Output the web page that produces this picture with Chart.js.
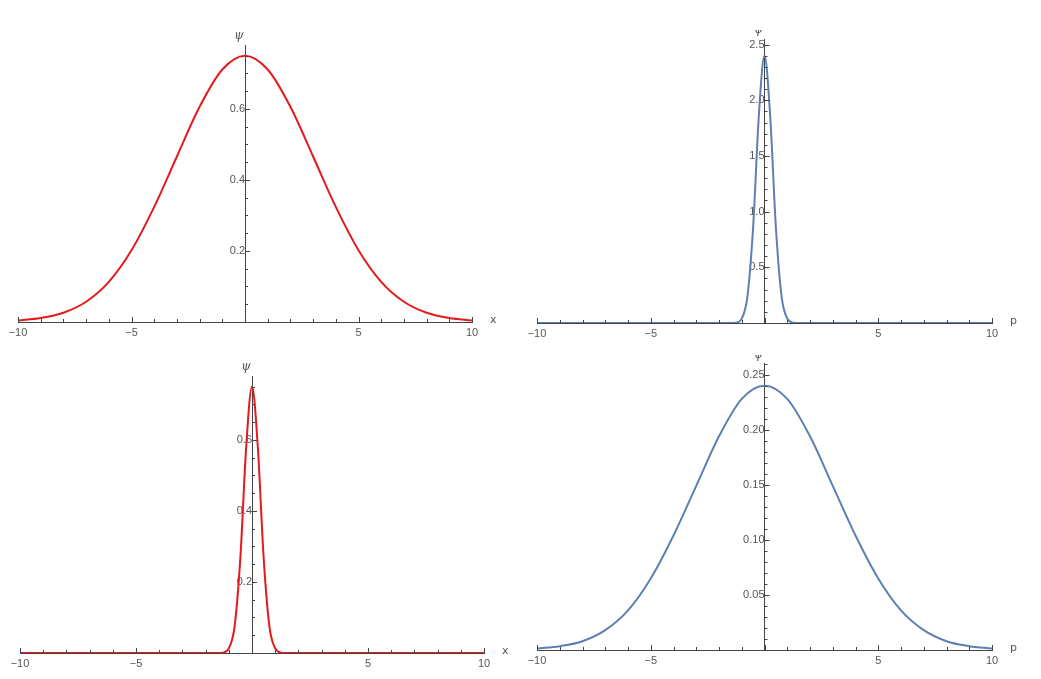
<!DOCTYPE html>
<html>
<head>
<meta charset="utf-8">
<script src="https://cdn.jsdelivr.net/npm/chart.js@4"></script>
<style>
  body { margin:0; background:#fff; width:1041px; height:679px; overflow:hidden; position:relative; }
  .panel { position:absolute; }
</style>
</head>
<body>
<div class="panel" style="left:0;top:30px;width:520px;height:320px"><canvas id="c1"></canvas></div>
<div class="panel" style="left:520px;top:30px;width:521px;height:320px"><canvas id="c2"></canvas></div>
<div class="panel" style="left:0;top:355px;width:520px;height:320px"><canvas id="c3"></canvas></div>
<div class="panel" style="left:520px;top:355px;width:521px;height:320px"><canvas id="c4"></canvas></div>
<script>
// ── data ──
const wideX   = [-10,-9,-8,-7,-6,-5,-4,-3,-2,-1,0,1,2,3,4,5,6,7,8,9,10];
const posWide = [0.004,0.011,0.026,0.057,0.113,0.202,0.324,0.466,0.606,0.711,0.75,0.711,0.606,0.466,0.324,0.202,0.113,0.057,0.026,0.011,0.004];
const momWide = [0.0013,0.0035,0.008,0.018,0.036,0.065,0.104,0.149,0.194,0.228,0.24,0.228,0.194,0.149,0.104,0.065,0.036,0.018,0.008,0.0035,0.0013];

const narrowX   = [-10,-1.5,-1.25,-1,-0.75,-0.5,-0.25,0,0.25,0.5,0.75,1,1.25,1.5,10];
const posNarrow = [0,0,0.001,0.013,0.075,0.27,0.581,0.75,0.581,0.27,0.075,0.013,0.001,0,0];
const momNarrow = [0,0,0.003,0.04,0.24,0.86,1.86,2.4,1.86,0.86,0.24,0.04,0.003,0,0];

const xTicks  = [-10,-5,5,10];
const yTicks1 = [0.2,0.4,0.6];
const yTicks2 = [0.5,1.0,1.5,2.0,2.5];
const yTicks4 = [0.05,0.10,0.15,0.20,0.25];

const RED = '#e41a1c', BLUE = '#5d7fb3', AXIS = '#444', TXT = '#555';

// Mathematica-style axes: ticks pointing in, minor ticks, labels at axis ends
const axesPlugin = {
  id: 'mmaAxes',
  afterDraw(chart, args, o) {
    const { ctx } = chart, xs = chart.scales.x, ys = chart.scales.y;
    const x0 = xs.getPixelForValue(0), y0 = ys.getPixelForValue(0);
    ctx.save();
    ctx.strokeStyle = AXIS; ctx.lineWidth = 1;
    ctx.beginPath();
    for (let v = -10; v <= 10; v++) {
      const px = Math.round(xs.getPixelForValue(v)) + 0.5;
      const len = v % 5 === 0 ? 5 : 3;
      ctx.moveTo(px, y0); ctx.lineTo(px, y0 - len);
    }
    const n = Math.floor(ys.max / o.minor + 1e-6);
    for (let i = 1; i <= n; i++) {
      const v = i * o.minor;
      const py = Math.round(ys.getPixelForValue(v)) + 0.5;
      const major = Math.abs(v / o.major - Math.round(v / o.major)) < 1e-6;
      ctx.moveTo(x0, py); ctx.lineTo(x0 + (major ? 5 : 3), py);
    }
    ctx.stroke();
    ctx.fillStyle = TXT;
    ctx.font = 'italic 12px "DejaVu Serif"';
    ctx.textAlign = 'center'; ctx.textBaseline = 'bottom';
    ctx.fillText('ψ', x0 - 6, ys.top - 3);
    ctx.font = '11px "DejaVu Sans"';
    ctx.textAlign = 'left'; ctx.textBaseline = 'middle';
    ctx.fillText(o.xName, xs.right + 18, y0 - 2);
    ctx.restore();
  }
};

function makeChart(id, xs, ys, color, yMax, yTicks, major, minor, decimals, xName, pad) {
  new Chart(document.getElementById(id), {
    type: 'line',
    data: {
      datasets: [{
        data: xs.map((x, i) => ({ x, y: ys[i] })),
        borderColor: color, borderWidth: 2, pointRadius: 0,
        cubicInterpolationMode: 'monotone', fill: false
      }]
    },
    options: {
      responsive: true, maintainAspectRatio: false, animation: false,
      layout: { padding: pad },
      plugins: { legend: { display: false }, tooltip: { enabled: false },
                 mmaAxes: { major, minor, xName } },
      scales: {
        x: {
          type: 'linear', min: -10, max: 10, position: { y: 0 },
          border: { color: AXIS },
          grid: { display: false },
          afterBuildTicks: s => { s.ticks = xTicks.map(v => ({ value: v })); },
          ticks: { color: TXT, font: { size: 11 }, padding: -4,
                   callback: v => String(v).replace('-', '\u2212') }
        },
        y: {
          min: 0, max: yMax, position: { x: 0 },
          border: { color: AXIS },
          grid: { display: false },
          afterBuildTicks: s => { s.ticks = yTicks.map(v => ({ value: v })); },
          ticks: { color: TXT, font: { size: 11 }, padding: 2,
                   callback: v => v.toFixed(decimals) }
        }
      }
    },
    plugins: [axesPlugin]
  });
}

makeChart('c1', wideX,   posWide,   RED,  0.78, yTicks1, 0.2,  0.05, 1, 'x', { left: 18, right: 48, top: 15, bottom: 28 });
makeChart('c2', narrowX, momNarrow, BLUE, 2.55, yTicks2, 0.5,  0.1,  1, 'p', { left: 17, right: 49, top: 9,  bottom: 27 });
makeChart('c3', narrowX, posNarrow, RED,  0.78, yTicks1, 0.2,  0.05, 1, 'x', { left: 20, right: 36, top: 21, bottom: 22 });
makeChart('c4', wideX,   momWide,   BLUE, 0.26, yTicks4, 0.05, 0.01, 2, 'p', { left: 17, right: 49, top: 8,  bottom: 25 });
</script>
</body>
</html>
